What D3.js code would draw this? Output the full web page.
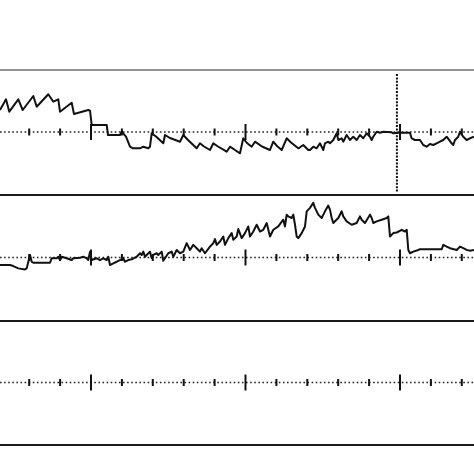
<!DOCTYPE html>
<html><head><meta charset="utf-8">
<script src="https://cdn.jsdelivr.net/npm/d3@7"></script>
<style>html,body{margin:0;padding:0;background:#fff;}svg{display:block;}</style>
</head><body>
<script>
// time axis: minor tick every 1 unit, major every 5 units
const tickValues = d3.range(-2, 13);
const majorTicks = [0, 5, 10];
const markerTime = 9.9;

// Trace 1 (top panel)
const trace1T = [-2.945,-2.751,-2.644,-2.353,-2.210,-1.867,-1.757,-1.382,-1.220,-1.058,-1.003,-0.625,-0.550,-0.087,-0.032,0.023,0.508,0.550,0.938,0.993,1.133,1.262,1.359,1.586,1.692,1.854,1.909,1.964,2.103,2.340,2.395,2.556,2.880,2.987,3.139,3.420,3.527,3.657,3.851,3.958,4.110,4.391,4.498,4.660,4.822,4.928,5.048,5.200,5.307,5.534,5.792,5.899,6.019,6.171,6.333,6.472,6.708,6.764,6.870,7.032,7.087,7.194,7.304,7.410,7.517,7.572,7.679,7.734,7.841,7.951,8.003,8.113,8.164,8.274,8.381,8.488,8.598,8.705,8.811,8.921,9.028,9.083,9.135,9.245,9.352,9.459,9.730,9.782,9.944,10.322,10.377,10.484,10.646,10.753,10.863,10.970,11.076,11.187,11.293,11.400,11.510,11.672,11.724,11.780,11.886,11.941,12.048,12.158,12.265,12.395];
const trace1V = [2.2,3.27,2.03,3.27,2.2,3.6,2.53,3.77,3.03,3.27,2.03,2.93,1.8,2.2,2.13,0.7,0.7,-0.3,-0.3,0.03,-0.47,-1.47,-1.63,-1.63,-1.47,-1.63,-1.47,-0.13,-0.45,-1.13,-0.3,-0.6,-0.97,-0.3,-0.8,-1.63,-1.13,-1.45,-1.8,-1.13,-1.45,-1.97,-1.47,-1.8,-2.13,-0.63,-1.1,-1.47,-0.97,-1.45,-1.8,-0.97,-1.4,-1.8,-0.63,-1.05,-1.63,-1.53,-1.3,-1.8,-1.8,-1.47,-1.63,-1.13,-1.8,-1.13,-0.97,-1.13,-0.8,-0.13,-0.8,-0.63,-0.97,-0.3,-0.8,-0.47,-0.8,-0.3,-0.63,-0.13,-0.47,-0.8,-0.47,0.03,-0.07,0.03,-0.03,-0.13,-0.07,-0.07,-0.63,-0.8,-0.8,-1.3,-1.47,-1.2,-1.3,-1.13,-0.97,-0.8,-0.47,-1.13,-1.3,-0.8,-0.47,0.03,-0.47,-0.8,-0.63,-0.47];

// Trace 2 (middle panel)
const trace2T = [-2.945,-2.621,-2.514,-2.353,-2.136,-2.081,-2.029,-1.974,-1.919,-1.867,-1.327,-1.272,-1.110,-1.058,-1.003,-0.948,-0.786,-0.625,-0.573,-0.356,-0.249,-0.139,-0.087,-0.032,0.023,0.184,0.291,0.398,0.508,0.560,0.615,0.722,0.832,0.938,1.045,1.100,1.207,1.317,1.479,1.586,1.641,1.692,1.747,1.802,1.909,1.964,2.016,2.126,2.178,2.288,2.340,2.501,2.611,2.663,2.773,2.880,2.987,3.097,3.204,3.310,3.420,3.527,3.582,3.689,3.851,3.958,4.013,4.068,4.174,4.281,4.336,4.443,4.553,4.605,4.715,4.767,4.877,4.984,5.090,5.146,5.252,5.362,5.469,5.576,5.686,5.793,5.900,6.061,6.223,6.278,6.333,6.385,6.495,6.547,6.602,6.657,6.709,6.819,6.926,6.981,7.087,7.194,7.249,7.356,7.466,7.573,7.679,7.734,7.790,7.841,8.003,8.113,8.164,8.274,8.437,8.598,8.705,8.760,8.867,9.029,9.084,9.136,9.246,9.408,9.570,9.621,9.676,9.783,9.893,10.055,10.162,10.217,10.269,10.324,10.430,10.592,10.647,11.350,11.401,11.511,11.618,11.835,11.942,12.048,12.158,12.265,12.395];
const trace2V = [-0.75,-0.75,-0.85,-1.08,-1.18,-1.08,-0.42,0.25,-0.42,-0.52,-0.52,-0.08,-0.08,0.08,-0.25,0.08,-0.08,-0.25,-0.08,-0.02,0.08,-0.08,-0.25,0.58,-0.25,-0.08,-0.25,-0.08,-0.25,0.08,-0.75,-0.58,-0.42,-0.25,-0.08,-0.42,-0.25,-0.18,0.08,0.42,0.25,0.58,0.08,0.25,0.58,-0.08,0.25,0.42,0.25,0.58,-0.32,0.42,0.58,0.08,0.75,0.42,0.58,1.42,0.75,1.25,0.92,0.58,0.92,0.42,1.08,1.42,1.82,1.25,1.58,2.08,1.25,1.92,2.42,1.75,2.08,2.82,1.92,2.42,3.08,2.08,2.58,3.25,2.58,2.75,3.42,2.08,2.75,3.08,3.75,3.08,4.25,4.08,3.92,4.25,3.25,2.08,1.92,2.42,3.08,4.58,4.92,5.42,4.92,4.25,3.92,4.58,5.15,4.75,3.92,3.42,3.92,4.58,4.08,3.58,3.25,3.42,4.08,3.75,3.42,4.25,3.92,3.42,3.58,3.75,3.92,4.08,2.08,2.42,2.48,2.75,2.58,2.75,0.75,0.42,0.58,0.75,0.82,0.82,1.25,1.08,0.92,0.75,1.08,0.92,0.75,0.68,0.75];

const W = 474, H = 474;
const svg = d3.select("body").append("svg").attr("width", W).attr("height", H);

const x = d3.scaleLinear().domain([-2.945, 12.395]).range([0, W]);
const panels = [
  {top: 70, bottom: 195, t: trace1T, v: trace1V, marker: true},
  {top: 195, bottom: 321, t: trace2T, v: trace2V, marker: false},
  {top: 321, bottom: 445, t: null, v: null, marker: false}
];

const borders = [70, 195, 321, 445];
svg.selectAll("line.border").data(borders).enter().append("line")
  .attr("x1", 0).attr("x2", W)
  .attr("y1", d => d).attr("y2", d => d)
  .attr("stroke", (d, i) => i === 0 ? "#6e6e6e" : "#1a1a1a")
  .attr("stroke-width", (d, i) => i === 0 ? 1.6 : 2.2);

panels.forEach(p => {
  const y = d3.scaleLinear().domain([-6.3, 6.2]).range([p.bottom, p.top]);
  const g = svg.append("g");
  const y0 = y(0);
  g.append("line").attr("x1", 0).attr("x2", W).attr("y1", y0).attr("y2", y0)
    .attr("stroke", "#222").attr("stroke-width", 1.6).attr("stroke-dasharray", "1.6,2.5");
  g.selectAll("line.tick").data(tickValues).enter().append("line")
    .attr("x1", d => x(d)).attr("x2", d => x(d))
    .attr("y1", d => y0 - (majorTicks.includes(d) ? 8 : 3.5))
    .attr("y2", d => y0 + (majorTicks.includes(d) ? 8 : 3.5))
    .attr("stroke", "#111").attr("stroke-width", 2);
  if (p.marker) {
    g.append("line").attr("x1", x(markerTime)).attr("x2", x(markerTime))
      .attr("y1", p.top + 4).attr("y2", p.bottom - 3)
      .attr("stroke", "#111").attr("stroke-width", 2).attr("stroke-dasharray", "2,1.4");
  }
  if (p.t) {
    const data = p.t.map((t, i) => [t, p.v[i]]);
    const line = d3.line().x(d => x(d[0])).y(d => y(d[1]));
    g.append("path").datum(data).attr("d", line)
      .attr("fill", "none").attr("stroke", "#111").attr("stroke-width", 2)
      .attr("stroke-linejoin", "round");
  }
});
</script>
</body></html>
